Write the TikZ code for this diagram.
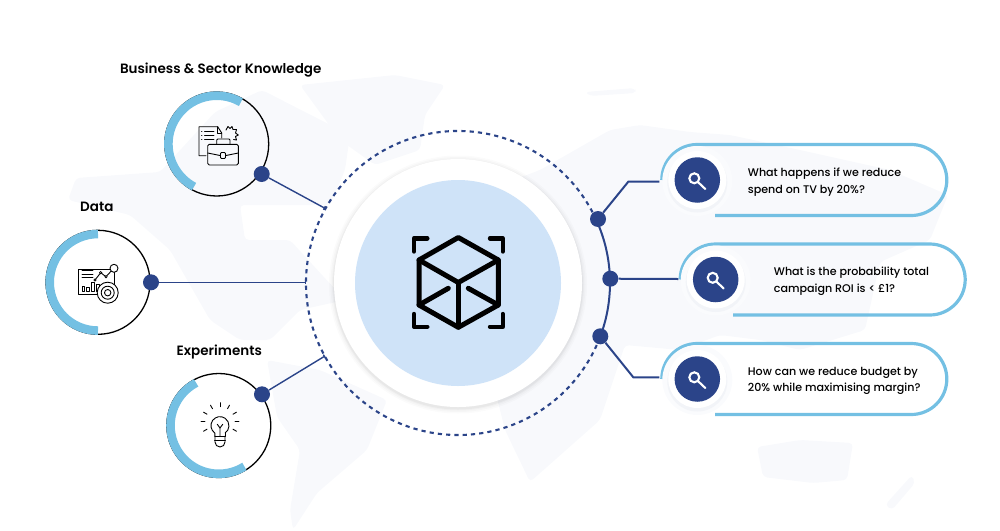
\documentclass[tikz,border=0pt]{standalone}
\usepackage{fontspec}
\setmainfont{Poppins Medium}[BoldFont={Poppins SemiBold}]
\usepackage{xcolor}
\usetikzlibrary{arrows.meta, positioning, calc}
\definecolor{navy}{HTML}{2B4489}
\definecolor{skyline}{HTML}{74C0E3}
\definecolor{corefill}{HTML}{CFE3F8}
\definecolor{mapgray}{HTML}{F8F9FC}

\begin{document}
\begin{tikzpicture}[
        x=1pt, y=-1pt,
        dot/.style={circle, fill=navy, minimum size=16pt, inner sep=0pt},
        ring/.style={circle, draw=black, line width=1.3pt, minimum size=104pt, inner sep=0pt},
        ringarc/.style={draw=skyline, line width=8.6pt},
        link/.style={draw=navy, line width=1.4pt, -{Bar[width=4pt,length=1pt]}},
        branch/.style={draw=navy, line width=2pt},
        pill/.style={draw=skyline, line width=3.2pt},
        lens/.style={circle, fill=navy, minimum size=45.5pt, inner sep=0pt},
        heading/.style={font=\fontsize{13.5}{16}\selectfont\bfseries, anchor=base west, inner sep=0pt},
        ask/.style={font=\fontsize{11.1}{16.6}\selectfont, align=left, anchor=west, inner sep=0pt},
        icon/.style={draw=black, line width=0.9pt, line cap=round, line join=round},
        cube/.style={draw=black, line width=5pt, line cap=round, line join=round},
        land/.style={fill=mapgray, rounded corners=4pt},
    ]
        \useasboundingbox (0,0) rectangle (1000,530);

        % pale world map
        \path[land] (68,200) -- (76,178) -- (160,172) -- (215,112) -- (262,90) -- (305,112) -- (350,135) -- (345,170)
            -- (330,205) -- (285,205) -- (240,205) -- (245,240) -- (290,240) -- (345,300) -- (300,310) -- (270,340)
            -- (240,340) -- (210,320) -- (170,250) -- (130,215) -- cycle;
        \path[land] (300,85) -- (395,75) -- (445,85) -- (425,115) -- (420,150) -- (375,165) -- (340,140) -- cycle;
        \path[land] (267,360) -- (320,370) -- (387,400) -- (367,450) -- (317,493) -- (293,530) -- (290,510)
            -- (300,450) -- (277,417) -- cycle;
        \path[land] (610,130) -- (640,125) -- (690,132) -- (730,135) -- (800,150) -- (890,170) -- (948,195) -- (930,240)
            -- (880,262) -- (865,330) -- (800,350) -- (760,340) -- (720,335) -- (680,350) -- (625,345) -- (600,420)
            -- (530,482) -- (505,430) -- (490,370) -- (450,300) -- (460,200) -- (540,170) -- cycle;
        \path[land] (757,447) -- (800,440) -- (853,443) -- (847,480) -- (813,483) -- (763,477) -- cycle;
        \path[land] (885,505) -- (912,475) -- (915,483) -- (892,510) -- cycle;
        \path[land] (585,92) -- (635,88) -- (636,93) -- (590,96) -- cycle;

        % centre
        \node[dot, minimum size=0pt] (core) at (458,283) {};
        \draw[navy, line width=2.1pt, dash pattern=on 4.2pt off 4.1pt]
            (core.center) ++(24.6:152pt) arc[start angle=24.6, end angle=339.3, radius=152pt];
        \draw[branch] (core.center) ++(24.6:152pt) arc[start angle=24.6, end angle=-20.7, radius=152pt];
        \foreach \r/\o in {129/15, 127.5/20, 126/25, 125/30}
            \fill[black, opacity=0.0\o] (core.center) ++(0,1.5) circle[radius=\r pt];
        \fill[white] (core.center) circle[radius=124pt];
        \fill[corefill] (core.center) circle[radius=103pt];

        \draw[cube] (458.3,237.5) -- (498.3,260) -- (498.3,305) -- (458.3,327.3) -- (419,305) -- (419,260) -- cycle;
        \draw[cube] (419,260) -- (458.3,282.5) -- (498.3,260);
        \draw[cube] (458.3,282.5) -- (458.3,327.3);
        \draw[cube] (419,305) -- (448.3,288.3);
        \draw[cube] (498.3,305) -- (468.3,288.3);
        \draw[cube, line width=4.4pt] (414,251.5) -- (414,238.3) -- (427.3,238.3);
        \draw[cube, line width=4.4pt] (490,238.3) -- (502.7,238.3) -- (502.7,251.5);
        \draw[cube, line width=4.4pt] (414,314) -- (414,326.7) -- (427.3,326.7);
        \draw[cube, line width=4.4pt] (490,326.7) -- (502.7,326.7) -- (502.7,314);

        % left circles
        \node[ring] (biz) at (216.7,144) {};
        \node[ring] (data) at (98,282.3) {};
        \node[ring] (expt) at (218.8,425.5) {};
        \draw[ringarc] (biz.center) ++(60:48.3pt) arc[start angle=60, end angle=242, radius=48.3pt];
        \draw[ringarc] (data.center) ++(90:48.3pt) arc[start angle=90, end angle=270, radius=48.3pt];
        \draw[ringarc] (expt.center) ++(118:48.3pt) arc[start angle=118, end angle=302, radius=48.3pt];

        \coordinate (bizend) at (325,208.3);
        \coordinate (dataend) at (306,282.3);
        \coordinate (exptend) at (325,356);
        \node[dot] (bizdot) at (261.7,174) {};
        \node[dot] (datadot) at (151,282.3) {};
        \node[dot] (exptdot) at (262,394.3) {};
        \foreach \i/\j in {bizdot/bizend, datadot/dataend, exptdot/exptend}
            \path[link] (\i) -- (\j);

        \node[heading] (bizlabel) at (119.8,73.5) {Business \& Sector Knowledge};
        \node[heading] (datalabel) at (80,211) {Data};
        \node[heading] (exptlabel) at (176.5,355) {Experiments};

        % briefcase and paper
        \draw[icon] (206,155.7) -- (199,155.7) -- (199,126.7) -- (217.7,126.7) -- (221.7,133) -- (221.7,138);
        \draw[icon] (217.7,126.7) -- (217.7,133) -- (221.7,133);
        \foreach \y in {131,135,139} {
            \draw[icon] (201.5,\y) -- (202,\y);
            \draw[icon] (204.5,\y) -- (214,\y);
        }
        \draw[icon, rounded corners=1.5pt] (207.7,144.3) rectangle (238.3,165);
        \draw[icon, rounded corners=1pt] (216.7,144.3) -- (216.7,139) -- (230,139) -- (230,144.3);
        \draw[icon] (207.7,153) -- (220,155.5);
        \draw[icon] (226,155.5) -- (238.3,153);
        \draw[icon, rounded corners=1pt] (220.5,152.5) rectangle (225.5,158.5);
        \draw[icon] (226,130) -- (228,126.5) -- (230,128.5) -- (232,126.5) -- (233,129.5) -- (236.5,129.5) -- (235.5,133)
            -- (238.3,135) -- (235.5,136.5) -- (236.5,140) -- (233.5,139.5);

        % chart
        \draw[icon] (78.3,269) rectangle (114.3,294.3);
        \foreach \y in {270.7,274,277.3}
            \draw[icon] (82,\y) -- (93,\y);
        \draw[icon] (95,280) -- (100.7,272.7) -- (106,276.7) -- (111.7,270.5);
        \foreach \x/\y in {95/280, 100.7/272.7, 106/276.7}
            \fill[white, draw=black, line width=0.7pt] (\x,\y) circle[radius=1.2pt];
        \fill[white, draw=black, line width=0.9pt] (114,268.3) circle[radius=4pt];
        \foreach \x/\y in {82/286, 86.8/287, 91.6/282, 96.4/284}
            \draw[icon] (\x,291.7) rectangle (\x+2.8,\y);
        \fill[white, draw=black, line width=0.9pt] (107.7,292.7) circle[radius=10.5pt];
        \draw[icon] (107.7,292.7) circle[radius=6.5pt];
        \draw[icon] (107.7,292.7) circle[radius=3.2pt];

        % bulb
        \draw[icon] (214.8,436) -- (214.8,433) arc[start angle=235, end angle=-55, radius=9pt];
        \draw[icon] (225.2,433) -- (225.2,436) -- (214.8,436);
        \draw[icon] (214.5,440) -- (225.5,440);
        \draw[icon] (215,436) -- (215,442) arc[start angle=180, end angle=360, radius=5pt] -- (225,436);
        \draw[icon] (220,436) -- (220,428) -- (217.3,424.3);
        \draw[icon] (220,428) -- (222.7,424.3);
        \foreach \a in {90,60,30,0,-30,120,150,180,210}
            \draw[icon] ($(220,421.7)+(\a:15pt)$) -- ($(220,421.7)+(\a:19pt)$);

        % question pills
        \foreach \n/\cx/\cy/\rx/\sx/\tx/\txt in {
            1/697.3/180/948.3/715/747.7/{What happens if we reduce\\spend on TV by 20\%?},
            2/715.7/279.5/966.7/733/773.7/{What is the probability total\\campaign ROI is < £1?},
            3/697.3/379/948.3/715/747.7/{How can we reduce budget by\\20\% while maximising margin?}} {
            \draw[pill] (\cx-35.5,\cy) arc[start angle=180, end angle=90, radius=35.5pt]
                -- (\rx-37,\cy-35.5) arc[start angle=90, end angle=-90, radius=35.5pt] -- (\sx,\cy+35.5);
            \fill[mapgray!70] (\cx,\cy+1) circle[radius=35pt];
            \fill[navy!6] (\cx,\cy+2.5) circle[radius=30pt];
            \fill[white] (\cx,\cy) circle[radius=29pt];
            \node[lens] (lens\n) at (\cx,\cy) {};
            \draw[white, line width=2.1pt] (\cx-3,\cy-1.7) circle[radius=5pt];
            \draw[white, line width=2.1pt, line cap=round] (\cx+0.8,\cy+2.2) -- (\cx+8,\cy+9);
            \node[ask] (ask\n) at (\tx,\cy+2) {\txt};
        }

        % right connectors
        \node[dot] (top) at (598,219) {};
        \node[dot] (mid) at (610.3,278.7) {};
        \node[dot] (low) at (600.3,336.3) {};
        \coordinate (topbend) at (628.3,181.7);
        \coordinate (topend) at (659.3,181.7);
        \coordinate (midend) at (678.3,279);
        \coordinate (lowbend) at (633.3,377.3);
        \coordinate (lowend) at (659.3,377.3);
        \draw[branch] (top) -- (topbend) -- (topend);
        \draw[branch] (mid) -- (midend);
        \draw[branch] (low) -- (lowbend) -- (lowend);
    \end{tikzpicture}
\end{document}
